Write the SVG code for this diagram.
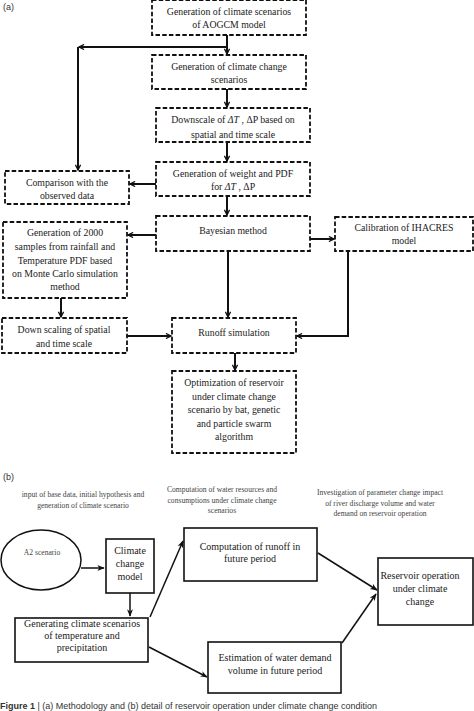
<svg xmlns="http://www.w3.org/2000/svg" width="474" height="711" viewBox="0 0 474 711">
<style>
.t{font-family:"Liberation Serif","Times New Roman",serif;font-size:9.8px;fill:#1a1a1a;text-anchor:middle}
.s{font-family:"Liberation Serif","Times New Roman",serif;font-size:7.6px;fill:#444;text-anchor:middle}
.b{font-family:"Liberation Serif","Times New Roman",serif;font-size:10px;fill:#1a1a1a;text-anchor:middle}
.lab{font-family:"Liberation Sans",Arial,sans-serif;font-size:9px;fill:#333}
.db{fill:#fff;stroke:#111;stroke-width:1.8;stroke-dasharray:4.5 2.2}
.sb{fill:#fff;stroke:#111;stroke-width:1.6}
.c{fill:none;stroke:#111;stroke-width:2}
.c2{fill:none;stroke:#111;stroke-width:1.5}
</style>
<defs>
<marker id="ah" viewBox="0 0 10 10" refX="9" refY="5" markerWidth="3.2" markerHeight="3.2" orient="auto" markerUnits="strokeWidth">
<path d="M1,1 L9,5 L1,9" fill="none" stroke="#111" stroke-width="2"/>
</marker>
<marker id="ah2" viewBox="0 0 10 10" refX="9" refY="5" markerWidth="5" markerHeight="5" orient="auto" markerUnits="strokeWidth">
<path d="M0,1 L10,5 L0,9 L3,5 z" fill="#111"/>
</marker>
</defs>
<rect width="474" height="711" fill="#fff"/>
<text class="lab" x="3" y="10">(a)</text>
<text class="lab" x="3" y="480">(b)</text>

<g id="connectors">
<path class="c" d="M227,35 V54" marker-end="url(#ah)"/>
<path class="c" d="M227,47 H79" marker-end="url(#ah)"/>
<path class="c" d="M78,47 V170" marker-end="url(#ah)"/>
<path class="c" d="M227,89 V107" marker-end="url(#ah)"/>
<path class="c" d="M227,142 V161" marker-end="url(#ah)"/>
<path class="c" d="M156,184 H130" marker-end="url(#ah)"/>
<path class="c" d="M227,196 V215" marker-end="url(#ah)"/>
<path class="c" d="M156,235 H128" marker-end="url(#ah)"/>
<path class="c" d="M310,239 H334" marker-end="url(#ah)"/>
<path class="c" d="M228,251 V317" marker-end="url(#ah)"/>
<path class="c" d="M348,251 V336 H297" marker-end="url(#ah)"/>
<path class="c" d="M61,298 V317" marker-end="url(#ah)"/>
<path class="c" d="M127,336 H171" marker-end="url(#ah)"/>
<path class="c" d="M235,353 V370" marker-end="url(#ah)"/>

<path class="c2" d="M81,568 H104" marker-end="url(#ah2)"/>
<path class="c2" d="M130,593 V616" marker-end="url(#ah2)"/>
<path class="c2" d="M150,617 L183,541" marker-end="url(#ah2)"/>
<path class="c2" d="M318,553 L377,590" marker-end="url(#ah2)"/>
<path class="c2" d="M149,647 L207,677" marker-end="url(#ah2)"/>
<path class="c2" d="M342,643 L376,594" marker-end="url(#ah2)"/>
</g>

<g id="n1"><rect class="db" x="152" y="0" width="154" height="35"/>
<text class="t" x="229" y="15">Generation of climate scenarios</text>
<text class="t" x="229" y="28">of AOGCM model</text></g>

<g id="n2"><rect class="db" x="152" y="55" width="154" height="34"/>
<text class="t" x="229" y="69.5">Generation of climate change</text>
<text class="t" x="229" y="83">scenarios</text></g>

<g id="n3"><rect class="db" x="156" y="108" width="154" height="34"/>
<text class="t" x="233" y="122.5">Downscale of  <tspan font-style="italic">ΔT</tspan> , ΔP based on</text>
<text class="t" x="233" y="137.5">spatial and time scale</text></g>

<g id="n4"><rect class="db" x="156" y="162" width="154" height="34"/>
<text class="t" x="233" y="176.5">Generation of weight and PDF</text>
<text class="t" x="233" y="189.5">for  <tspan font-style="italic">ΔT</tspan> , ΔP</text></g>

<g id="n5"><rect class="db" x="5" y="171" width="124" height="33"/>
<text class="t" x="67" y="185.5">Comparison with the</text>
<text class="t" x="67" y="198.5">observed data</text></g>

<g id="n6"><rect class="db" x="156" y="216" width="154" height="35"/>
<text class="t" x="233" y="233.5">Bayesian method</text></g>

<g id="n7"><rect class="db" x="3" y="222" width="124" height="76"/>
<text class="t" x="65" y="235.5">Generation of 2000</text>
<text class="t" x="65" y="250">samples from rainfall and</text>
<text class="t" x="65" y="263.5">Temperature PDF based</text>
<text class="t" x="65" y="276.5">on Monte Carlo simulation</text>
<text class="t" x="65" y="290">method</text></g>

<g id="n8"><rect class="db" x="335" y="217" width="138" height="34"/>
<text class="t" x="404" y="230.5">Calibration of IHACRES</text>
<text class="t" x="404" y="243.5">model</text></g>

<g id="n9"><rect class="db" x="2" y="318" width="125" height="35"/>
<text class="t" x="64" y="332.5">Down scaling of spatial</text>
<text class="t" x="64" y="346.5">and time scale</text></g>

<g id="n10"><rect class="db" x="172" y="318" width="124" height="35"/>
<text class="t" x="234" y="335.5">Runoff simulation</text></g>

<g id="n11"><rect class="db" x="172" y="371" width="124" height="82"/>
<text class="t" x="234" y="386">Optimization of reservoir</text>
<text class="t" x="234" y="399.5">under climate change</text>
<text class="t" x="234" y="413">scenario by bat, genetic</text>
<text class="t" x="234" y="426.5">and particle swarm</text>
<text class="t" x="234" y="440">algorithm</text></g>

<g id="labels">
<text class="s" x="83" y="496.5">input of base data, initial hypothesis and</text>
<text class="s" x="83" y="507.5">generation of climate scenario</text>
<text class="s" x="222" y="491.5">Computation of water resources and</text>
<text class="s" x="222" y="502.5">consumptions under climate change</text>
<text class="s" x="222" y="512.5">scenarios</text>
<text class="s" x="380" y="494.5">Investigation of parameter change impact</text>
<text class="s" x="380" y="505.5">of river discharge volume and water</text>
<text class="s" x="380" y="515.5">demand on reservoir operation</text>
</g>

<g id="b1"><ellipse cx="41" cy="560" rx="40" ry="30" fill="#fff" stroke="#111" stroke-width="1.5"/>
<text class="s" x="42" y="555" font-size="6">A2 scenario</text></g>

<g id="b2"><rect class="sb" x="106" y="539" width="48" height="54"/>
<text class="b" x="130" y="553.5">Climate</text>
<text class="b" x="130" y="566.5">change</text>
<text class="b" x="130" y="580">model</text></g>

<g id="b3"><rect class="sb" x="184" y="528" width="133" height="53"/>
<text class="b" x="250" y="549.5">Computation of runoff in</text>
<text class="b" x="250" y="561.5">future period</text></g>

<g id="b4"><rect class="sb" x="378" y="558" width="95" height="67"/>
<text class="b" x="420" y="578.5">Reservoir operation</text>
<text class="b" x="420" y="591.5">under climate</text>
<text class="b" x="420" y="605">change</text></g>

<g id="b5"><rect class="sb" x="15" y="618" width="133" height="44"/>
<text class="b" x="82" y="627">Generating climate scenarios</text>
<text class="b" x="82" y="639">of temperature and</text>
<text class="b" x="82" y="651">precipitation</text></g>

<g id="b6"><rect class="sb" x="208" y="642" width="133" height="51"/>
<text class="b" x="275" y="660.5">Estimation of water demand</text>
<text class="b" x="275" y="673.5">volume in future period</text></g>

<text class="lab" x="0" y="708.5" font-size="7.5"><tspan font-weight="bold">Figure 1</tspan> | (a) Methodology and (b) detail of reservoir operation under climate change condition</text>
</svg>
